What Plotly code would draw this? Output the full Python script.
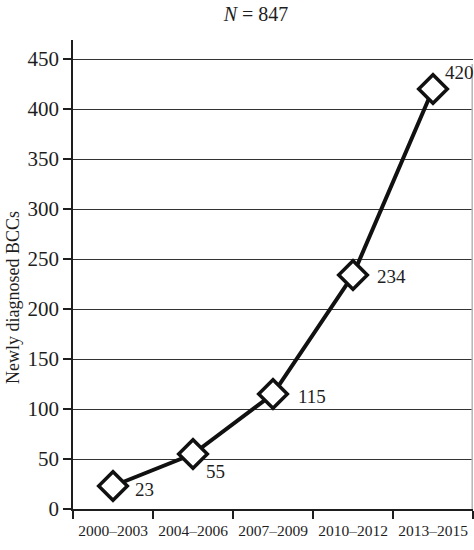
import plotly.graph_objects as go

periods = ["2000–2003", "2004–2006", "2007–2009", "2010–2012", "2013–2015"]
new_bccs = [23, 55, 115, 234, 420]
y_ticks = [0, 50, 100, 150, 200, 250, 300, 350, 400, 450]

# label offsets (pixels) relative to each marker: (xshift, yshift)
label_offsets = [(20, -3), (11, -17), (23, -2), (22, -1), (10, 17)]

FONT = "Liberation Serif"
INK = "#1e1e1e"

fig = go.Figure()
fig.add_trace(go.Scatter(
    x=periods,
    y=new_bccs,
    mode="lines+markers",
    line=dict(color="#111", width=4),
    marker=dict(symbol="diamond", size=22, color="white",
                line=dict(color="#111", width=3.5)),
    cliponaxis=False,
    showlegend=False,
))

for p, v, (dx, dy) in zip(periods, new_bccs, label_offsets):
    fig.add_annotation(
        x=p, y=v, text=str(v), showarrow=False,
        xanchor="left", yanchor="middle", xshift=dx, yshift=dy,
        font=dict(family=FONT, size=19, color=INK),
    )

# y-axis title (placed as annotation to match reference position)
fig.add_annotation(
    text="Newly diagnosed BCCs", textangle=-90, showarrow=False,
    xref="paper", yref="paper", x=-0.15, y=0.45,
    xanchor="center", yanchor="middle",
    font=dict(family=FONT, size=18, color=INK),
)

# faint right border line
fig.add_shape(type="line", xref="paper", yref="y", x0=0.998, x1=0.998, y0=0, y1=445,
              line=dict(color="#b5b5b5", width=1.5))

fig.update_layout(
    width=474, height=550,
    margin=dict(l=73, r=1, t=40, b=41),
    paper_bgcolor="white",
    plot_bgcolor="white",
    font=dict(family=FONT, color=INK),
    title=dict(text="<i>N</i> = 847", x=0.54, xanchor="center", y=0.975, yanchor="middle",
               font=dict(family=FONT, size=20, color=INK)),
    xaxis=dict(
        type="category",
        tickson="boundaries",
        ticks="outside", ticklen=8, tickwidth=1.5, tickcolor=INK,
        showline=True, linecolor=INK, linewidth=1.5,
        showgrid=False,
        automargin=False,
        ticklabelstandoff=7,
        tickfont=dict(family=FONT, size=15.5, color=INK),
        range=[-0.5, 4.5],
    ),
    yaxis=dict(
        range=[0, 469],
        tickvals=y_ticks,
        ticks="outside", ticklen=8, tickwidth=1.5, tickcolor=INK,
        showline=True, linecolor=INK, linewidth=1.5,
        showgrid=True, gridcolor="#333", gridwidth=1.2,
        zeroline=False,
        automargin=False,
        tickfont=dict(family=FONT, size=21, color=INK),
    ),
)

fig.write_html("out.html", post_script="document.body.style.margin='0';",
               config={"displayModeBar": False})
